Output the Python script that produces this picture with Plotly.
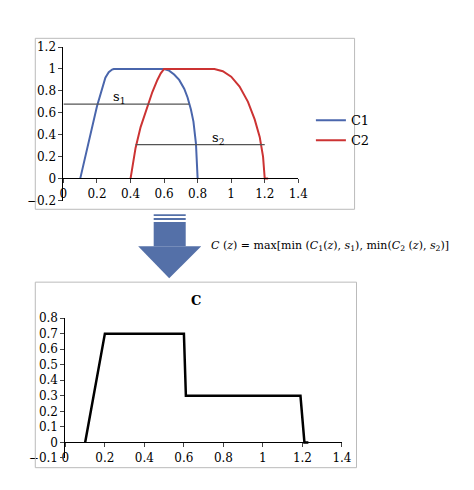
import plotly.graph_objects as go

c1_x = [0.1, 0.15, 0.2, 0.25, 0.27, 0.29, 0.3, 0.6, 0.63, 0.66, 0.69, 0.72, 0.74, 0.76, 0.775, 0.79, 0.8]
c1_y = [0.0, 0.33, 0.66, 0.92, 0.97, 0.995, 1.0, 1.0, 0.985, 0.95, 0.9, 0.82, 0.74, 0.63, 0.52, 0.32, 0.0]
c2_x = [0.4, 0.43, 0.46, 0.5, 0.53, 0.56, 0.58, 0.6, 0.9, 0.95, 1.0, 1.05, 1.1, 1.14, 1.17, 1.19, 1.2, 1.22]
c2_y = [0.0, 0.28, 0.47, 0.66, 0.79, 0.9, 0.96, 1.0, 1.0, 0.98, 0.93, 0.84, 0.7, 0.54, 0.38, 0.2, 0.0, 0.0]
s1_x = [0.0, 0.75]; s1_y = [0.68, 0.68]
s2_x = [0.43, 1.2]; s2_y = [0.31, 0.31]
c_x = [0.1, 0.2, 0.6, 0.61, 1.19, 1.21, 1.23]
c_y = [0.0, 0.7, 0.7, 0.3, 0.3, 0.0, 0.0]

W, H = 474, 490
px = lambda v: v / W
py = lambda v: 1 - v / H
F = "DejaVu Serif, Liberation Serif, serif"
BLUE = "#4a66ac"; RED = "#cc3333"; ARROW = "#5470a8"

fig = go.Figure()
fig.add_trace(go.Scatter(x=c1_x, y=c1_y, mode="lines", name="C1", line=dict(color=BLUE, width=2), xaxis="x", yaxis="y"))
fig.add_trace(go.Scatter(x=c2_x, y=c2_y, mode="lines", name="C2", line=dict(color=RED, width=2), xaxis="x", yaxis="y"))
for sx, sy in [(s1_x, s1_y), (s2_x, s2_y)]:
    fig.add_trace(go.Scatter(x=sx, y=sy, mode="lines", showlegend=False, line=dict(color="#555555", width=1.2), xaxis="x", yaxis="y"))
fig.add_trace(go.Scatter(x=c_x, y=c_y, mode="lines", showlegend=False, line=dict(color="black", width=2.5), xaxis="x2", yaxis="y2"))

ax = dict(showgrid=False, zeroline=False, ticks="outside", ticklen=4, linecolor="black", tickfont=dict(family=F, size=12, color="black"), showline=True)
fig.update_layout(
    width=W, height=H, margin=dict(l=0, r=0, t=0, b=0), paper_bgcolor="white", plot_bgcolor="white",
    font=dict(family=F, color="black"),
    xaxis=dict(**ax, range=[0, 1.4], dtick=0.2, domain=[px(53), px(295)], anchor="free", position=py(168), tickformat="~g"),
    yaxis=dict(**ax, range=[-0.2, 1.2], dtick=0.2, domain=[py(191), py(33)], anchor="x", tickformat="~g"),
    xaxis2=dict(**ax, range=[0, 1.4], dtick=0.2, domain=[px(55), px(340)], anchor="free", position=py(440), tickformat="~g"),
    yaxis2=dict(**ax, range=[-0.1, 0.8], dtick=0.1, domain=[py(456), py(312)], anchor="x2", tickformat="~g"),
    legend=dict(x=px(308), y=py(93), xanchor="left", yanchor="top", font=dict(family=F, size=13), bgcolor="rgba(0,0,0,0)", tracegroupgap=0),
    shapes=[
        dict(type="rect", xref="paper", yref="paper", x0=px(24), x1=px(353), y0=py(200), y1=py(24), line=dict(color="#bbbbbb", width=1)),
        dict(type="rect", xref="paper", yref="paper", x0=px(24), x1=px(355), y0=py(466), y1=py(275), line=dict(color="#bbbbbb", width=1)),
        dict(type="rect", xref="paper", yref="paper", x0=px(146), x1=px(179), y0=py(207), y1=py(205), fillcolor=ARROW, line_width=0),
        dict(type="rect", xref="paper", yref="paper", x0=px(146), x1=px(179), y0=py(211), y1=py(209), fillcolor=ARROW, line_width=0),
        dict(type="rect", xref="paper", yref="paper", x0=px(146), x1=px(179), y0=py(238), y1=py(213), fillcolor=ARROW, line_width=0),
        dict(type="path", xref="paper", yref="paper",
             path=f"M {px(130)} {py(238)} L {px(195)} {py(238)} L {px(162)} {py(271)} Z", fillcolor=ARROW, line_width=0),
    ],
    annotations=[
        dict(text="s<sub>1</sub>", x=0.33, y=0.74, xref="x", yref="y", showarrow=False, font=dict(family=F, size=13)),
        dict(text="s<sub>2</sub>", x=0.92, y=0.37, xref="x", yref="y", showarrow=False, font=dict(family=F, size=13)),
        dict(text="<b>C</b>", x=px(190), y=py(294), xref="paper", yref="paper", showarrow=False, font=dict(family=F, size=13)),
        dict(text="<i>C</i> (<i>z</i>) = max[min (<i>C</i><sub>1</sub>(<i>z</i>), <i>s</i><sub>1</sub>), min(<i>C</i><sub>2</sub> (<i>z</i>), <i>s</i><sub>2</sub>)]",
             x=px(203), y=py(238), xref="paper", yref="paper", xanchor="left", showarrow=False, font=dict(family=F, size=11)),
    ],
)
fig.write_html("out.html")
